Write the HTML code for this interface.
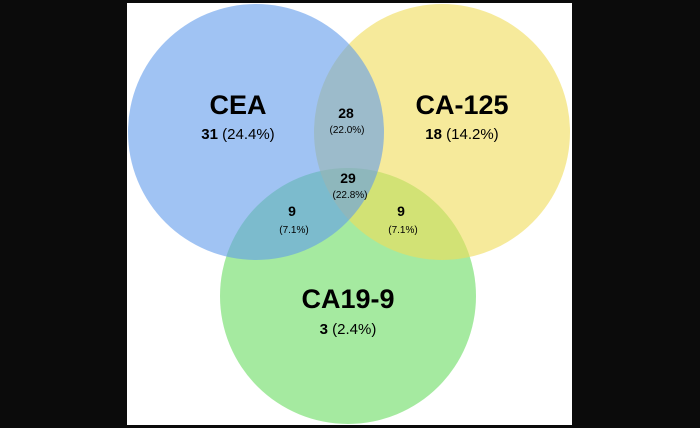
<!DOCTYPE html>
<html><head><style>body{margin:0;background:#0a0a0a;}svg{display:block}</style></head><body>
<svg width="700" height="428" viewBox="0 0 700 428" xmlns="http://www.w3.org/2000/svg" font-family="'Liberation Sans', sans-serif">
<rect x="0" y="0" width="700" height="428" fill="#0b0b0b"/>
<rect x="127" y="3" width="445" height="422" fill="#fff"/>
<circle cx="348" cy="296" r="128" fill="rgb(105,220,97)" fill-opacity="0.6"/>
<circle cx="442" cy="132" r="128" fill="rgb(240,220,88)" fill-opacity="0.6"/>
<circle cx="256" cy="132" r="128" fill="rgb(97,155,235)" fill-opacity="0.6"/>
<g text-anchor="middle" fill="#000">
<text x="238" y="114" font-size="27" font-weight="bold">CEA</text>
<text x="238" y="139" font-size="15"><tspan font-weight="bold">31</tspan> (24.4%)</text>
<text x="462" y="114" font-size="27" font-weight="bold">CA-125</text>
<text x="462" y="139" font-size="15"><tspan font-weight="bold">18</tspan> (14.2%)</text>
<text x="346" y="118" font-size="14" font-weight="bold">28</text>
<text x="347" y="133" font-size="10">(22.0%)</text>
<text x="348" y="183" font-size="14" font-weight="bold">29</text>
<text x="350" y="198" font-size="10">(22.8%)</text>
<text x="292" y="216" font-size="14" font-weight="bold">9</text>
<text x="294" y="233" font-size="10">(7.1%)</text>
<text x="401" y="216" font-size="14" font-weight="bold">9</text>
<text x="403" y="233" font-size="10">(7.1%)</text>
<text x="348" y="308" font-size="27" font-weight="bold">CA19-9</text>
<text x="348" y="334" font-size="15"><tspan font-weight="bold">3</tspan> (2.4%)</text>
</g>
</svg>
</body></html>
